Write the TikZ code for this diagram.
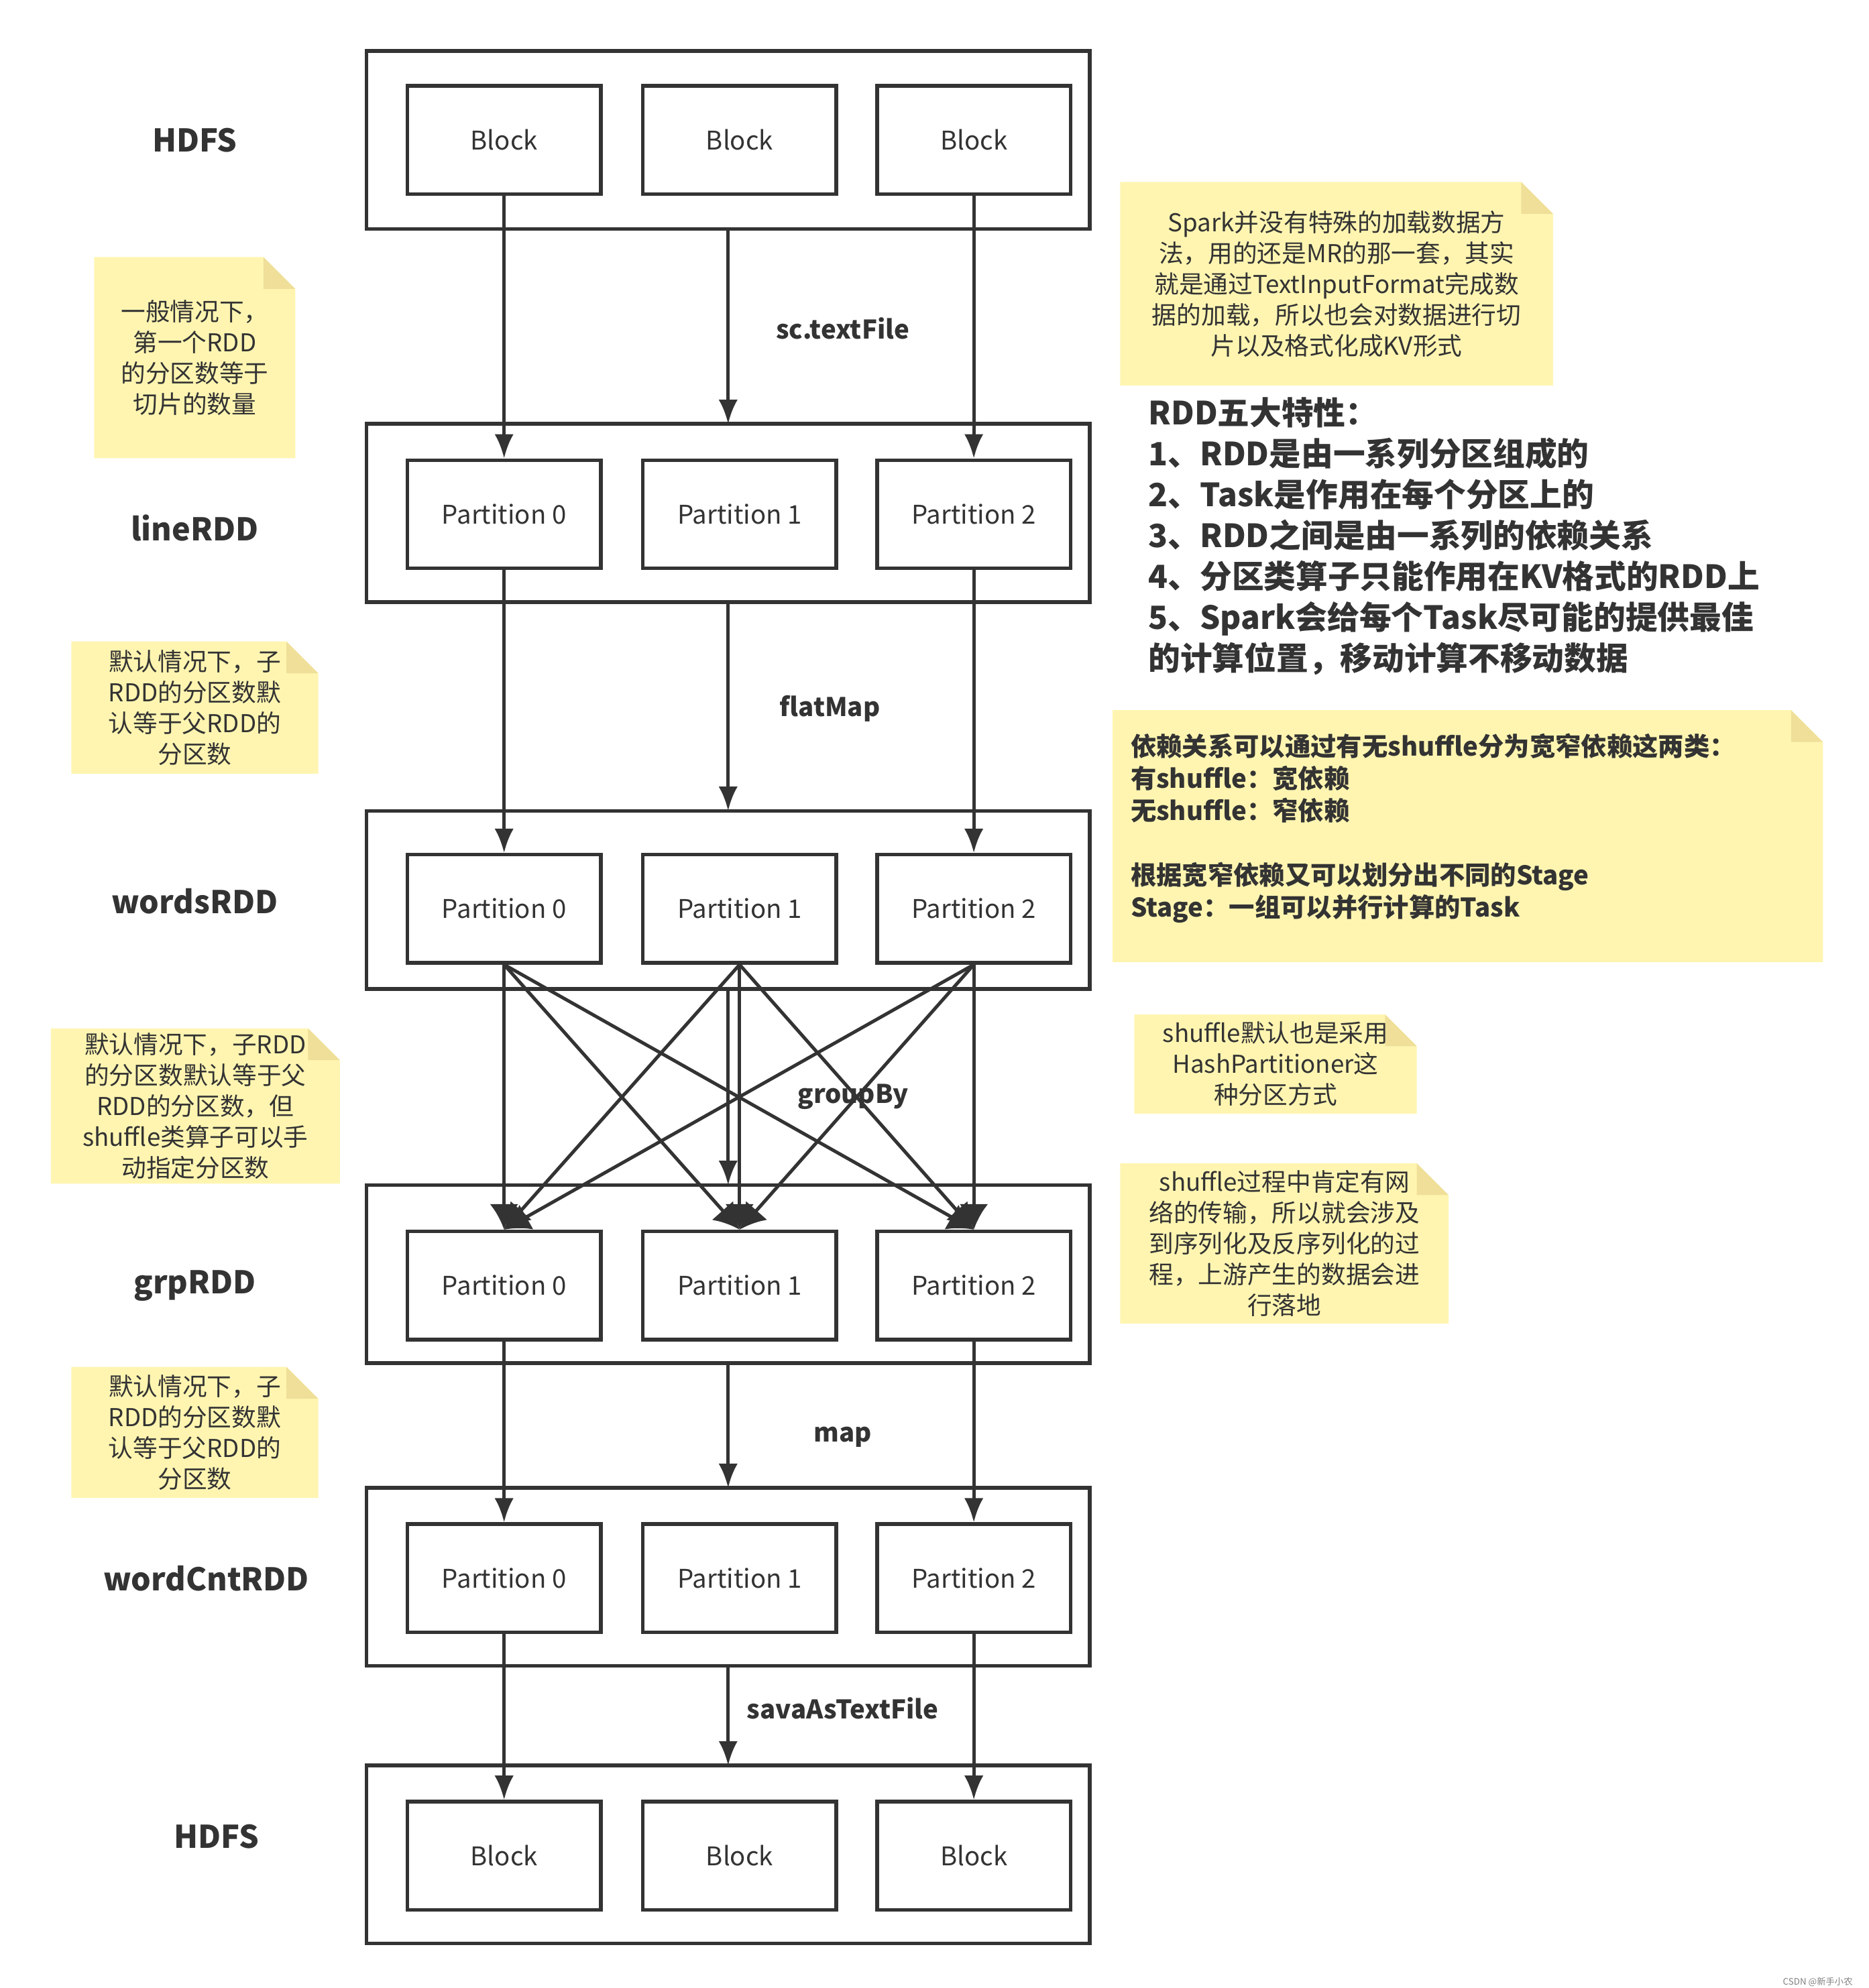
\documentclass[tikz,border=0pt]{standalone}
\usepackage{fontspec}
\setmainfont{Noto Sans CJK SC}
\usetikzlibrary{arrows.meta}
\definecolor{ln}{HTML}{333333}
\definecolor{nt}{HTML}{FFF5B1}
\definecolor{fold}{HTML}{EFDF98}
\tikzset{
 outer/.style={draw=ln,line width=1.6pt},
 inner/.style={draw=ln,line width=1.6pt,minimum width=3.04cm,minimum height=1.7cm,font=\fontsize{11.5}{13}\selectfont,text=ln},
 lbl/.style={font=\fontsize{14}{16}\selectfont\bfseries,text=ln},
 op/.style={font=\fontsize{11.5}{13}\selectfont\bfseries,text=ln},
 arr/.style={draw=ln,line width=1.5pt,-{Latex[length=0.38cm,width=0.3cm]}},
 garr/.style={draw=ln,line width=1.5pt,-{Latex[length=0.4cm,width=0.45cm]}},
 ntxt/.style={font=\fontsize{11}{13.8}\selectfont,text=ln,align=center},
}
\newcommand\mynote[6]{% name x1 y1 x2 y2 text
 \fill[nt] (#2,#3) -- (#4-25,#3) -- (#4,#3+25) -- (#4,#5) -- (#2,#5) -- cycle;
 \fill[fold] (#4-25,#3) -- (#4,#3+25) -- (#4-25,#3+25) -- cycle;
 \node[ntxt] (#1) at ({(#2+#4)/2},{(#3+#5)/2}) {#6};}
\begin{document}
\begin{tikzpicture}[x=0.02cm,y=-0.02cm]
\useasboundingbox (0,0) rectangle (1468,1562);
% rows
\foreach \n/\t/\ti/\la/\lb/\lc in {a/40/67/Block/Block/Block,b/333/361/Partition 0/Partition 1/Partition 2,c/637/671/Partition 0/Partition 1/Partition 2,d/931/967/Partition 0/Partition 1/Partition 2,e/1169/1197/Partition 0/Partition 1/Partition 2,f/1387/1415/Block/Block/Block}{
 \draw[outer] (288,\t) rectangle (856,\t+140);
 \node[inner] (\n0) at (396,\ti+43) {\la};
 \node[inner] (\n1) at (581,\ti+43) {\lb};
 \node[inner] (\n2) at (765,\ti+43) {\lc};
 \coordinate (\n t) at (572,\t);
 \coordinate (\n b) at (572,\t+140);
}
% labels
\node[lbl] (l1) at (153,110) {HDFS};
\node[lbl] (l2) at (153,415) {lineRDD};
\node[lbl] (l3) at (153,708) {wordsRDD};
\node[lbl] (l4) at (153,1010) {grpRDD};
\node[lbl] (l5) at (162,1240) {wordCntRDD};
\node[lbl] (l6) at (170,1443) {HDFS};
% straight arrows
\foreach \u/\v in {a/b,b/c,d/e,e/f}{
 \draw[arr] (\u0.south) -- (\v0.north);
 \draw[arr] (\u b) -- (\v t);
 \draw[arr] (\u2.south) -- (\v2.north);
}
\draw[arr] (cb) -- (dt);
\foreach \i in {0,1,2}{\foreach \j in {0,1,2}{\draw[garr] (c\i.south) -- (d\j.north);}}
% ops
\node[op] (o1) at (662,258) {sc.textFile};
\node[op] (o2) at (652,557) {flatMap};
\node[op] (o3) at (670,862) {groupBy};
\node[op] (o4) at (662,1129) {map};
\node[op] (o5) at (662,1342) {savaAsTextFile};
% notes
\mynote{n1}{74}{202}{232}{360}{一般情况下，\\第一个RDD\\的分区数等于\\切片的数量}
\mynote{n2}{880}{143}{1220}{303}{Spark并没有特殊的加载数据方\\法，用的还是MR的那一套，其实\\就是通过TextInputFormat完成数\\据的加载，所以也会对数据进行切\\片以及格式化成KV形式}
\mynote{n3}{56}{504}{250}{608}{默认情况下，子\\RDD的分区数默\\认等于父RDD的\\分区数}
\mynote{n4}{874}{558}{1432}{756}{}
\node[font=\fontsize{11.5}{14.5}\selectfont\bfseries,text=ln,align=left,anchor=north west] (n4t) at (882,570) {依赖关系可以通过有无shuffle分为宽窄依赖这两类：\\有shuffle：宽依赖\\无shuffle：窄依赖\\[14pt]根据宽窄依赖又可以划分出不同的Stage\\Stage：一组可以并行计算的Task};
\mynote{n5}{40}{808}{267}{930}{默认情况下，子RDD\\的分区数默认等于父\\RDD的分区数，但\\shuffle类算子可以手\\动指定分区数}
\mynote{n6}{891}{797}{1113}{875}{shuffle默认也是采用\\HashPartitioner这\\种分区方式}
\mynote{n7}{880}{914}{1138}{1040}{shuffle过程中肯定有网\\络的传输，所以就会涉及\\到序列化及反序列化的过\\程，上游产生的数据会进\\行落地}
\mynote{n8}{56}{1074}{250}{1177}{默认情况下，子\\RDD的分区数默\\认等于父RDD的\\分区数}
\node[font=\fontsize{14.3}{18.3}\selectfont\bfseries,text=ln,align=left,anchor=north west] (rdd) at (896,306) {RDD五大特性：\\1、RDD是由一系列分区组成的\\2、Task是作用在每个分区上的\\3、RDD之间是由一系列的依赖关系\\4、分区类算子只能作用在KV格式的RDD上\\5、Spark会给每个Task尽可能的提供最佳\\的计算位置，移动计算不移动数据};
\node[font=\fontsize{4}{5}\selectfont,text=gray] (wm) at (1428,1557) {CSDN @新手小农};
\end{tikzpicture}
\end{document}
